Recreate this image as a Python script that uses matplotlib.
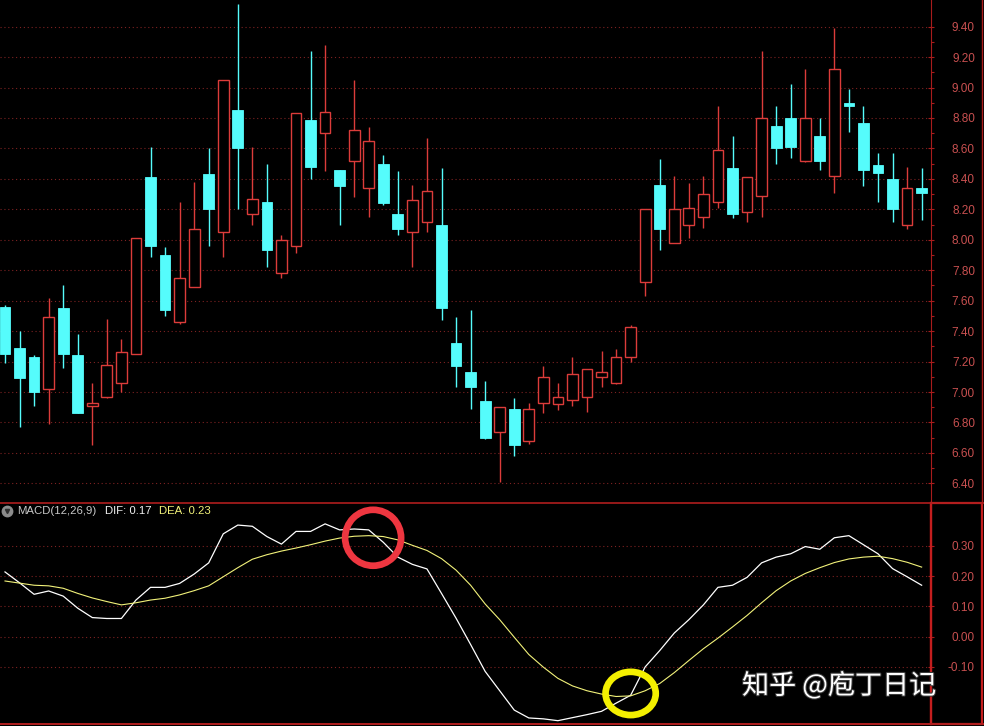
import matplotlib.pyplot as plt
import matplotlib.patheffects as pe
from matplotlib.lines import Line2D
from matplotlib.patches import Ellipse, Rectangle

# K-line data (one candle per day)
opens = [7.56, 7.29, 7.23, 7.02, 7.55, 7.24, 6.91, 6.97, 7.06, 7.25,
         8.41, 7.90, 7.46, 7.69, 8.43, 8.05, 8.85, 8.17, 8.25, 7.78,
         7.96, 8.79, 8.70, 8.46, 8.52, 8.34, 8.50, 8.17, 8.05, 8.12,
         8.10, 7.32, 7.13, 6.94, 6.74, 6.89, 6.68, 6.93, 6.92, 6.95,
         6.97, 7.10, 7.06, 7.23, 7.72, 8.36, 7.98, 8.10, 8.15, 8.25,
         8.47, 8.18, 8.29, 8.75, 8.80, 8.52, 8.68, 8.42, 8.90, 8.77,
         8.49, 8.40, 8.10, 8.34]
highs = [7.57, 7.40, 7.24, 7.62, 7.70, 7.38, 7.06, 7.48, 7.35, 8.01,
         8.61, 7.95, 8.25, 8.38, 8.60, 9.05, 9.55, 8.61, 8.50, 8.03,
         8.83, 9.24, 9.28, 8.46, 9.05, 8.74, 8.56, 8.45, 8.36, 8.67,
         8.47, 7.49, 7.54, 7.07, 6.90, 6.96, 6.93, 7.17, 7.06, 7.23,
         7.15, 7.27, 7.28, 7.44, 8.20, 8.53, 8.42, 8.37, 8.42, 8.88,
         8.68, 8.41, 9.24, 8.88, 9.02, 9.12, 8.80, 9.39, 8.99, 8.88,
         8.57, 8.57, 8.48, 8.47]
lows = [7.19, 6.77, 6.91, 6.79, 7.16, 6.86, 6.65, 6.96, 7.00, 7.25,
        7.89, 7.50, 7.45, 7.69, 7.96, 7.89, 8.20, 8.10, 7.82, 7.75,
        7.91, 8.40, 8.45, 8.10, 8.28, 8.15, 8.23, 8.03, 7.82, 8.05,
        7.47, 7.03, 6.89, 6.69, 6.41, 6.58, 6.66, 6.86, 6.88, 6.91,
        6.87, 7.03, 7.05, 7.20, 7.63, 7.93, 7.98, 8.01, 8.08, 8.21,
        8.14, 8.12, 8.15, 8.50, 8.54, 8.51, 8.46, 8.31, 8.71, 8.35,
        8.25, 8.12, 8.07, 8.13]
closes = [7.25, 7.09, 7.00, 7.49, 7.25, 6.86, 6.93, 7.18, 7.26, 8.01,
          7.96, 7.54, 7.75, 8.07, 8.20, 9.05, 8.60, 8.27, 7.93, 8.00,
          8.83, 8.48, 8.84, 8.35, 8.72, 8.65, 8.24, 8.07, 8.26, 8.32,
          7.55, 7.17, 7.03, 6.70, 6.90, 6.65, 6.89, 7.10, 6.97, 7.12,
          7.15, 7.13, 7.23, 7.43, 8.20, 8.07, 8.20, 8.21, 8.30, 8.59,
          8.17, 8.41, 8.80, 8.60, 8.61, 8.80, 8.52, 9.12, 8.88, 8.46,
          8.44, 8.20, 8.34, 8.31]

# MACD(12,26,9)
dif = [0.214, 0.178, 0.140, 0.151, 0.134, 0.094, 0.063, 0.060, 0.060, 0.121,
       0.163, 0.163, 0.176, 0.207, 0.244, 0.340, 0.369, 0.365, 0.331, 0.306,
       0.348, 0.348, 0.373, 0.353, 0.356, 0.353, 0.312, 0.263, 0.239, 0.224,
       0.143, 0.061, -0.026, -0.115, -0.179, -0.243, -0.269, -0.272, -0.278, -0.268,
       -0.258, -0.247, -0.220, -0.194, -0.100, -0.046, 0.012, 0.056, 0.105, 0.163,
       0.170, 0.196, 0.244, 0.263, 0.274, 0.298, 0.289, 0.327, 0.334, 0.304,
       0.274, 0.225, 0.198, 0.170]
dea = [0.184, 0.177, 0.170, 0.168, 0.160, 0.143, 0.128, 0.116, 0.105, 0.112,
       0.121, 0.127, 0.138, 0.152, 0.168, 0.198, 0.228, 0.256, 0.271, 0.283,
       0.293, 0.304, 0.316, 0.326, 0.332, 0.334, 0.331, 0.320, 0.302, 0.285,
       0.258, 0.220, 0.170, 0.108, 0.056, -0.002, -0.059, -0.101, -0.138, -0.163,
       -0.179, -0.190, -0.198, -0.196, -0.179, -0.155, -0.119, -0.079, -0.040, -0.005,
       0.032, 0.070, 0.112, 0.152, 0.184, 0.209, 0.228, 0.245, 0.257, 0.263,
       0.266, 0.258, 0.246, 0.230]

price_ticks = [6.40, 6.60, 6.80, 7.00, 7.20, 7.40, 7.60, 7.80, 8.00, 8.20,
               8.40, 8.60, 8.80, 9.00, 9.20, 9.40]
macd_ticks = [-0.10, 0.00, 0.10, 0.20, 0.30]

# highlighted crosses (death cross / golden cross)
death_cross = (25.3, 0.327)
golden_cross = (43.0, -0.188)

W, H = 984, 726
RED = "#dc3c3a"
CYAN = "#55fcfc"
FRAME = "#a81c1c"
GRID = "#7e2222"
LABEL = "#c85050"

fig = plt.figure(figsize=(W / 100, H / 100), dpi=100, facecolor="black")
ax1 = fig.add_axes([0, 1 - 503 / H, 931 / W, 503 / H], facecolor="black")
ax2 = fig.add_axes([0, 1 - 724 / H, 931 / W, 221 / H], facecolor="black")

n = len(closes)
xs = list(range(n))
body_w = 0.74

# candles
for i in xs:
    up = closes[i] >= opens[i]
    color = RED if up else CYAN
    ax1.vlines(i, lows[i], highs[i], color=color, lw=1.0, zorder=2)
    bottom = min(opens[i], closes[i])
    height = max(abs(closes[i] - opens[i]), 0.012)
    if up:
        rect = Rectangle((i - body_w / 2, bottom), body_w, height,
                         facecolor="black", edgecolor=RED, lw=1.0, zorder=3)
    else:
        rect = Rectangle((i - body_w / 2, bottom), body_w, height,
                         facecolor=CYAN, edgecolor=CYAN, lw=0.6, zorder=3)
    ax1.add_patch(rect)

ax2.plot(xs, dif, color="white", lw=0.9, zorder=3)
ax2.plot(xs, dea, color="#f2f27a", lw=0.8, zorder=3)

ax2.add_patch(Ellipse(death_cross, 3.85, 0.185, fill=False,
                      edgecolor="#ee3640", lw=4.8, zorder=5))
ax2.add_patch(Ellipse(golden_cross, 3.45, 0.143, fill=False,
                      edgecolor="#f4f000", lw=4.8, zorder=5))

x_lo, x_hi = -5 / 14.55, 926 / 14.55
ax1.set_xlim(x_lo, x_hi)
ax2.set_xlim(x_lo, x_hi)
ax1.set_ylim(6.271, 9.575)
ax2.set_ylim(-0.289, 0.442)

for ax, ticks in ((ax1, price_ticks), (ax2, macd_ticks)):
    ax.set_xticks([])
    ax.yaxis.tick_right()
    ax.set_yticks(ticks)
    ax.set_yticklabels(["%.2f" % t for t in ticks])
    ax.tick_params(axis="y", which="major", direction="inout", length=4.5, width=0.8,
                   color=FRAME, labelcolor=LABEL, labelsize=8.5, pad=29.4)
    for lbl in ax.get_yticklabels():
        lbl.set_horizontalalignment("right")
        lbl.set_fontfamily("Liberation Sans")
    ax.grid(axis="y", color=GRID, linestyle=(0, (1, 2.5)), lw=0.8)
    for side in ("left", "top", "bottom", "right"):
        ax.spines[side].set_visible(False)
    ax.spines["right"].set_visible(True)
    ax.spines["right"].set_color(FRAME)

ax1.set_yticks([6.5 + 0.2 * k for k in range(15)], minor=True)
ax1.tick_params(axis="y", which="minor", direction="out", length=2, width=0.8, color=FRAME)
ax2.spines["right"].set_color("#c41e1e")
ax2.spines["right"].set_linewidth(1.6)

# panel frames
fig.add_artist(Line2D([0, 1], [1 - 503 / H, 1 - 503 / H], color="#b01e1e", lw=1.2))
fig.add_artist(Line2D([0, 1], [1 - 724 / H, 1 - 724 / H], color="#b01e1e", lw=1.4))
fig.add_artist(Line2D([982 / W, 982 / W], [1 - 503 / H, 1], color=FRAME, lw=1.0))
fig.add_artist(Rectangle((931 / W, 1 - 724 / H), 51 / W, 221 / H, fill=False,
                         edgecolor="#c41e1e", lw=1.6, transform=fig.transFigure))

# MACD header
fig.add_artist(Line2D([7 / W], [1 - 511 / H], marker="o", ms=7.5, mfc="#8c8c8c",
                      mec="#8c8c8c", transform=fig.transFigure))
fig.add_artist(Line2D([7 / W], [1 - 511 / H], marker="v", ms=3, mfc="#303030",
                      mec="#303030", transform=fig.transFigure))
fig.text(17 / W, 1 - 511 / H, "MACD(12,26,9)", color="#c8c8c8", fontsize=8.2,
         family="Liberation Sans", va="center")
fig.text(105 / W, 1 - 511 / H, "DIF: 0.17", color="#f0f0f0", fontsize=8.2,
         family="Liberation Sans", va="center")
fig.text(159 / W, 1 - 511 / H, "DEA: 0.23", color="#f2f27a", fontsize=8.2,
         family="Liberation Sans", va="center")

# watermark (kept just clear of the -0.10 label)
fig.text(742 / W, 1 - 686 / H, "知乎 @庖丁日记", color="white", fontsize=19.5,
         family=["Noto Sans CJK SC", "DejaVu Sans"], va="center", ha="left",
         path_effects=[pe.withStroke(linewidth=1.5, foreground="#3a3a3a")])

fig.savefig("out.png", dpi=100, facecolor="black")
